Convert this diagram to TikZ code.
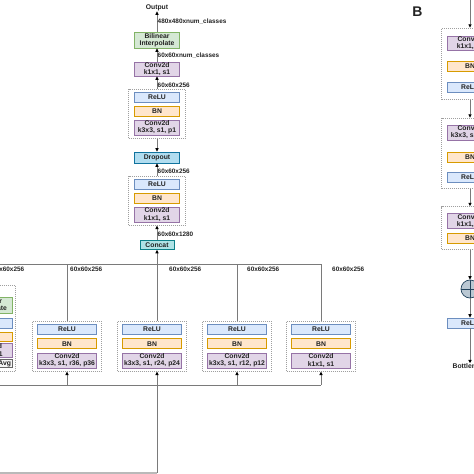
\documentclass[tikz,border=0pt]{standalone}
\usepackage{fontspec}
\setmainfont{Liberation Sans}
\usepackage{tikz}
\usetikzlibrary{positioning,arrows.meta,calc,fit}
\definecolor{relucolor}{HTML}{DAE8FC}
\definecolor{reluline}{HTML}{6C8EBF}
\definecolor{bncolor}{HTML}{FFE6CC}
\definecolor{bnline}{HTML}{D79B00}
\definecolor{convcolor}{HTML}{E1D5E7}
\definecolor{convline}{HTML}{9673A6}
\definecolor{interpcolor}{HTML}{D5E8D4}
\definecolor{interpline}{HTML}{82B366}
\definecolor{dropcolor}{HTML}{B1DDF0}
\definecolor{dropline}{HTML}{10739E}
\definecolor{catcolor}{HTML}{B0E3E6}
\definecolor{catline}{HTML}{0E8088}
\definecolor{poolcolor}{HTML}{F5F5F5}
\definecolor{poolline}{HTML}{666666}
\definecolor{addcolor}{HTML}{BAC8D3}
\definecolor{addline}{HTML}{23445D}
\definecolor{linkcolor}{HTML}{7A7A7A}
\definecolor{labelcolor}{HTML}{222222}
\tikzset{
    layer/.style={rectangle, draw, line width=0.7pt, minimum width=45pt, minimum height=10pt, inner sep=0pt, align=center, text=labelcolor, font=\fontsize{6.8}{7.4}\selectfont\bfseries},
    wide/.style={minimum width=59pt},
    relu/.style={layer, fill=relucolor, draw=reluline},
    bn/.style={layer, fill=bncolor, draw=bnline},
    conv/.style={layer, fill=convcolor, draw=convline, minimum height=15pt},
    interp/.style={layer, fill=interpcolor, draw=interpline, minimum height=16pt},
    dropout/.style={layer, fill=dropcolor, draw=dropline, minimum height=11pt},
    concat/.style={layer, fill=catcolor, draw=catline, minimum width=34pt, minimum height=9pt},
    pool/.style={layer, fill=poolcolor, draw=poolline, minimum height=8pt},
    block frame/.style={draw=gray!75, dash pattern=on 1pt off 1pt, line width=0.8pt},
    size label/.style={anchor=west, inner sep=0pt, text=labelcolor, font=\fontsize{6.4}{7}\selectfont\bfseries},
    plain text/.style={inner sep=0pt, text=labelcolor, font=\fontsize{6.8}{7.4}\selectfont\bfseries},
    link/.style={draw=linkcolor, line width=0.9pt},
    link arrow/.style={link, -{Triangle[length=3.5pt,width=3.2pt,color=black]}},
    input line/.style={draw=gray!55, line width=2pt}
}
\begin{document}
\begin{tikzpicture}[x=1pt, y=-1pt]
\useasboundingbox (0,0) rectangle (474,474);
\clip (0,0) rectangle (474,474);

% decoder head
\node[plain text] (output) at (157,8) {Output};
\node[interp] (interp) at (157,40) {Bilinear\\Interpolate};
\node[conv, minimum height=14pt] (convout) at (157,69) {Conv2d\\k1x1, s1};
\node[relu] (relu1) at (157,97.5) {ReLU};
\node[bn, below=3pt of relu1] (bn1) {BN};
\node[conv, below=3pt of bn1] (conv1) {Conv2d\\k3x3, s1, p1};
\node[block frame, fit=(relu1)(conv1), inner xsep=5.5pt, inner ysep=3pt] (block1) {};
\node[dropout] (dropout) at (157,157.5) {Dropout};
\node[relu] (relu2) at (157,184.5) {ReLU};
\node[bn, below=3pt of relu2] (bn2) {BN};
\node[conv, below=3pt of bn2] (conv2) {Conv2d\\k1x1, s1};
\node[block frame, fit=(relu2)(conv2), inner xsep=5.5pt, inner ysep=3pt] (block2) {};
\node[concat] (concat) at (157,245) {Concat};

\draw[link arrow] (interp.north) -- (output.south);
\draw[link arrow] (convout.north) -- (interp.south);
\draw[link arrow] (block1.north) -- (convout.south);
\draw[link arrow] (block1.south) -- (dropout.north);
\draw[link arrow] (block2.north) -- (dropout.south);
\draw[link arrow] (concat.north) -- (block2.south);

\node[size label] at (157.5,22) {480x480xnum\_classes};
\node[size label] at (157.5,56) {60x60xnum\_classes};
\node[size label] at (157.5,85) {60x60x256};
\node[size label] at (157.5,171) {60x60x256};
\node[size label] at (157.5,234) {60x60x1280};

% ASPP branches
\coordinate (busleft) at (-10.5,264);
\coordinate (busright) at (321,264);
\coordinate (bus2left) at (-10.5,385);
\coordinate (bus2right) at (321,385);
\coordinate (input) at (-10.5,472.5);
\coordinate (inputturn) at (157,472.5);

\node[interp] (interp0) at (-10.5,305.5) {Bilinear\\Interpolate};
\node[relu] (relu0) at (-10.5,323) {ReLU};
\node[bn, minimum height=9pt] (bn0) at (-10.5,336.5) {BN};
\node[conv, minimum height=14pt] (conv0) at (-10.5,350.5) {Conv2d\\k1x1, s1};
\node[pool] (pool0) at (-10.5,363.5) {Adaptive Avg};
\coordinate (top0) at (-10.5,283);
\node[block frame, fit=(top0)(interp0)(pool0), inner xsep=3pt, inner ysep=0pt, yshift=-3pt, minimum height=86pt] (block0) {};

\foreach \name/\x/\spec in {b1/67/{k3x3, s1, r36, p36}, b2/152/{k3x3, s1, r24, p24}, b3/237/{k3x3, s1, r12, p12}, b4/321/{k1x1, s1}} {
    \node[relu, wide] (relu\name) at (\x,329.5) {ReLU};
    \node[bn, wide, below=3.5pt of relu\name] (bn\name) {BN};
    \node[conv, wide, below=3.5pt of bn\name] (conv\name) {Conv2d\\\spec};
    \node[block frame, fit=(relu\name)(conv\name), inner xsep=4.5pt, inner ysep=3pt] (block\name) {};
}

\draw[link] (busleft) -- (busright);
\draw[link] (bus2left) -- (bus2right);
\foreach \name in {0,b1,b3,b4} {
    \draw[link] (block\name.north) -- (block\name.north |- busright);
    \draw[link arrow] (block\name.south |- bus2right) -- (block\name.south);
}
\draw[link arrow] (concat.south |- busright) -- (concat.south);
\draw[link] (concat.south |- busright) -- (concat.south |- blockb2.north);
\draw[input line] (input) -- (inputturn);
\draw[link arrow] (inputturn) -- (inputturn |- blockb2.south);

\node[size label] at (-8,269) {60x60x256};
\node[size label] at (70,269) {60x60x256};
\node[size label] at (169,269) {60x60x256};
\node[size label] at (247,269) {60x60x256};
\node[size label] at (332,269) {60x60x256};

% panel B: bottleneck
\node[inner sep=0pt, text=labelcolor, font=\fontsize{14}{14}\selectfont\bfseries] (panelb) at (417.5,12) {B};
\coordinate (inb) at (470,0);
\node[conv, minimum height=14pt] (convb1) at (470,43) {Conv2d\\k1x1, s1};
\node[bn] (bnb1) at (470,66) {BN};
\node[relu] (relub1) at (470,87) {ReLU};
\node[block frame, fit=(convb1)(relub1), inner xsep=5.5pt, inner ysep=7.5pt] (blockb5) {};
\node[conv] (convb2) at (470,132.5) {Conv2d\\k3x3, s1, p1};
\node[bn] (bnb2) at (470,157) {BN};
\node[relu] (relub2) at (470,177) {ReLU};
\node[block frame, fit=(convb2)(relub2), inner xsep=5.5pt, inner ysep=6.5pt] (blockb6) {};
\node[conv] (convb3) at (470,221) {Conv2d\\k1x1, s1};
\node[bn] (bnb3) at (470,238) {BN};
\node[block frame, fit=(convb3)(bnb3), inner xsep=5.5pt, inner ysep=6.5pt] (blockb7) {};
\node[circle, draw=addline, fill=addcolor, line width=0.7pt, minimum size=18pt, inner sep=0pt] (add) at (470,289) {};
\draw[addline, line width=0.7pt] (add.north) -- (add.south) (add.west) -- (add.east);
\node[relu] (relub) at (470,323) {ReLU};
\node[plain text] (bottleneck) at (470,366) {Bottleneck};

\draw[link arrow] (inb) -- (blockb5.north);
\draw[link arrow] (blockb5.south) -- (blockb6.north);
\draw[link arrow] (blockb6.south) -- (blockb7.north);
\draw[link arrow] (blockb7.south) -- (add.north);
\draw[link arrow] (add.south) -- (relub.north);
\draw[link arrow] (relub.south) -- (bottleneck.north);
\end{tikzpicture}
\end{document}
